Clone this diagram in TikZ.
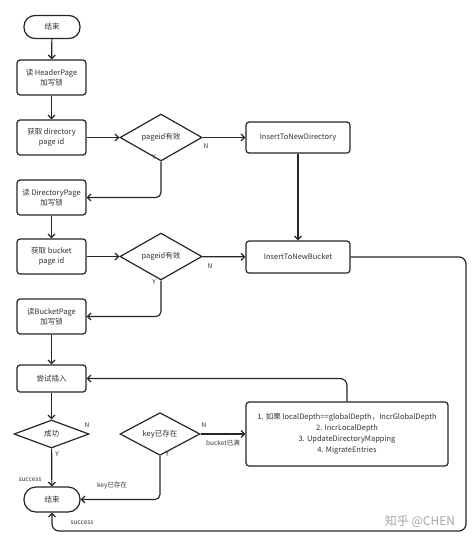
\documentclass[tikz,border=0pt]{standalone}
\usepackage{fontspec}
\setmainfont{Noto Sans CJK SC}
\usetikzlibrary{shapes.geometric,arrows.meta}
\begin{document}
\begin{tikzpicture}[x=1pt,y=-1pt,
  line width=1.2pt,
  every node/.style={text=black!80, font=\fontsize{7.5}{10}\selectfont},
  box/.style={draw=black!85, rectangle, rounded corners=3pt, minimum width=69pt, minimum height=35pt, align=center, inner sep=1pt},
  pill/.style={draw=black!85, rectangle, rounded corners=11pt, minimum width=56pt, minimum height=23pt},
  dia/.style={draw=black!85, diamond, minimum width=82pt, minimum height=27pt, inner sep=0pt},
  lbl/.style={font=\fontsize{6.5}{8}\selectfont, inner sep=0pt},
  conn/.style={draw=black!85, -{Straight Barb[length=3.5pt,width=7pt]}},
  line/.style={draw=black!85}]
\useasboundingbox (0,0) rectangle (474,544);
\fill[white] (0,0) rectangle (474,544);

\node[pill] (end1) at (52,27) {结束};
\node[box] (hdr) at (51.5,77.5) {读 HeaderPage\\加写锁};
\node[box] (getdir) at (51.5,137.5) {获取 directory\\page id};
\node[dia] (d1) at (161,137.5) {pageid有效};
\node[box, minimum width=104pt, minimum height=31pt] (newdir) at (298,137.5) {InsertToNewDirectory};
\node[box] (rddir) at (51.5,197.5) {读 DirectoryPage\\加写锁};
\node[box] (getbkt) at (51.5,256.5) {获取 bucket\\page id};
\node[dia] (d2) at (161,256.5) {pageid有效};
\node[box, minimum width=104pt, minimum height=32pt] (newbkt) at (298,257) {InsertToNewBucket};
\node[box] (rdbkt) at (51.5,316.5) {读BucketPage\\加写锁};
\node[box, minimum height=27pt] (try) at (51.5,378.5) {尝试插入};
\node[dia, minimum width=75pt, minimum height=28pt] (d3) at (51.5,434) {成功};
\node[dia, minimum width=80pt, minimum height=28pt] (d4) at (160,434) {key已存在};
\node[box, minimum width=202pt, minimum height=64pt, font=\fontsize{7.5}{11}\selectfont] (big) at (347,434) {1. 如果 localDepth==globalDepth，IncrGlobalDepth\\2. IncrLocalDepth\\3. UpdateDirectoryMapping\\4. MigrateEntries};
\node[pill, minimum height=25pt, rounded corners=12pt] (end2) at (52,499.5) {结束};

\coordinate (c1) at (466,531);

\draw[conn] (end1) -- (hdr);
\draw[conn] (hdr) -- (getdir);
\draw[conn] (getdir) -- (d1);
\draw[conn] (d1) -- (newdir);
\draw[conn, rounded corners=5pt] (d1.south) |- (rddir.east);
\draw[conn] (rddir) -- (getbkt);
\draw[conn] (getbkt) -- (d2);
\draw[conn] (d2) -- (newbkt);
\draw[conn] (newdir) -- (newbkt);
\draw[conn, rounded corners=5pt] (d2.south) |- (rdbkt.east);
\draw[conn] (rdbkt) -- (try);
\draw[conn] (try) -- (d3);
\draw[conn] (d3) -- (end2);
\draw[conn] (d4) -- (big);
\draw[conn, rounded corners=5pt] (d4.south) |- (end2.east);
\draw[conn, rounded corners=7pt] (big.north) |- (try.east);
\draw[conn, rounded corners=7pt] (newbkt.east) -| (c1) -| (end2.south);

\node[lbl] (n1) at (206,146) {N};
\node[lbl] (y1) at (154,157) {Y};
\node[lbl] (n2) at (210,266) {N};
\node[lbl] (y2) at (154,282) {Y};
\node[lbl] (n3) at (87,425) {N};
\node[lbl] (y3) at (57,454) {Y};
\node[lbl] (s1) at (30,480) {success};
\node[lbl] (n4) at (204,425) {N};
\node[lbl] (bf) at (223,443) {bucket已满};
\node[lbl] (y4) at (167,454) {Y};
\node[lbl] (ke) at (112,486) {key已存在};
\node[lbl] (s2) at (82,523) {success};
\node[text=black!35, font=\fontsize{12}{14}\selectfont] (wm) at (420,521) {知乎 @CHEN};
\end{tikzpicture}
\end{document}
